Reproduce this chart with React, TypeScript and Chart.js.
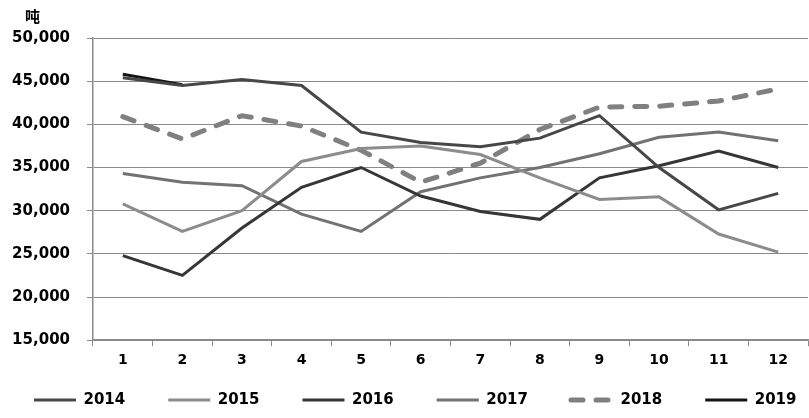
import React, { useEffect, useRef } from "react";
import { Chart, registerables } from "chart.js";

Chart.register(...registerables);

const months = ["1", "2", "3", "4", "5", "6", "7", "8", "9", "10", "11", "12"];
const years = ["2014", "2015", "2016", "2017", "2018", "2019"];
const s2014 = [45400, 44500, 45200, 44500, 39100, 37900, 37400, 38400, 41000, 35000, 30100, 32000];
const s2015 = [30800, 27600, 30000, 35700, 37200, 37500, 36500, 33800, 31300, 31600, 27300, 25200];
const s2016 = [24800, 22500, 28000, 32700, 35000, 31700, 29900, 29000, 33800, 35200, 36900, 35000];
const s2017 = [34300, 33300, 32900, 29600, 27600, 32200, 33800, 35000, 36600, 38500, 39100, 38100];
const s2018 = [40900, 38300, 41000, 39800, 37000, 33300, 35500, 39400, 42000, 42100, 42700, 44100];
const s2019 = [45800, 44600];
const yMin = 15000;
const yMax = 50000;
const yStep = 5000;
const unitLabel = "吨";

const LEGEND_PAD = 43;
const LEGEND_START = 34;
const LEGEND_TOP = 349.5;

const unitPlugin = {
  id: "unitLabel",
  afterDraw(chart: any) {
    const ctx = chart.ctx;
    ctx.save();
    ctx.font = 'bold 15px "Noto Sans CJK SC"';
    ctx.fillStyle = "#000";
    ctx.textAlign = "left";
    ctx.textBaseline = "middle";
    ctx.fillText(unitLabel, 25, 16);
    ctx.restore();
  },
};

// Keep the legend on one row with wide spacing, and keep its layout box short.
const legendFitPlugin = {
  id: "legendFit",
  beforeLayout(chart: any) {
    const leg = chart.legend;
    if (leg && !leg._fitWrapped) {
      const orig = leg.fit;
      leg.fit = function () {
        const mw = this.maxWidth;
        this.maxWidth = 5000;
        orig.call(this);
        this.maxWidth = mw;
        this.width = mw;
        this.height = 43;
      };
      leg._fitWrapped = true;
    }
  },
  afterLayout(chart: any) {
    const leg = chart.legend;
    if (leg && leg.lineWidths) {
      const L = -100;
      const R = 2 * LEGEND_START - LEGEND_PAD + leg.lineWidths[0] - L;
      leg.left = L;
      leg.right = R;
      leg.width = R - L;
      leg.top = LEGEND_TOP;
      leg.bottom = LEGEND_TOP + 62;
    }
  },
};

export default function App() {
  const ref = useRef<HTMLCanvasElement | null>(null);

  useEffect(() => {
    document.body.style.margin = "0";
    if (!ref.current) return;
    const mk = (label: string, data: number[], color: string, width: number, dash: number[] = []) => ({
      label,
      data,
      borderColor: color,
      backgroundColor: color,
      borderWidth: width,
      borderDash: dash,
      borderCapStyle: dash.length ? "round" : "butt",
      pointRadius: 0,
      tension: 0,
      fill: false,
    });
    const chart = new Chart(ref.current, {
      type: "line",
      data: {
        labels: months,
        datasets: [
          mk(years[0], s2014, "#474747", 3),
          mk(years[1], s2015, "#8c8c8c", 3),
          mk(years[2], s2016, "#363636", 3),
          mk(years[3], s2017, "#727272", 3),
          mk(years[4], s2018, "#808080", 5, [12, 13]),
          mk(years[5], s2019, "#151515", 3),
        ] as any,
      },
      options: {
        animation: false,
        responsive: true,
        maintainAspectRatio: false,
        layout: { padding: { left: 0, right: 1, top: 38, bottom: 0 } },
        plugins: {
          tooltip: { enabled: false },
          title: { display: false },
          legend: {
            position: "bottom",
            labels: {
              usePointStyle: true,
              pointStyle: "line",
              pointStyleWidth: 42,
              padding: LEGEND_PAD,
              color: "#000",
              font: { family: '"DejaVu Sans"', weight: "bold", size: 15 },
              generateLabels: (c: any) =>
                c.data.datasets.map((ds: any, i: number) => ({
                  text: ds.label,
                  fillStyle: ds.borderColor,
                  strokeStyle: ds.borderColor,
                  lineWidth: ds.borderWidth,
                  lineDash: ds.borderDash,
                  lineCap: ds.borderCapStyle,
                  pointStyle: "line",
                  fontColor: "#000",
                  hidden: false,
                  datasetIndex: i,
                })),
            },
          },
        },
        scales: {
          x: {
            offset: true,
            grid: {
              offset: true,
              drawOnChartArea: false,
              drawTicks: true,
              tickLength: 6,
              color: "#8a8a8a",
            },
            border: { color: "#8a8a8a", width: 1.5 },
            ticks: {
              padding: 6,
              color: "#000",
              maxRotation: 0,
              font: { family: '"DejaVu Sans"', weight: "bold", size: 14 },
            },
          },
          y: {
            min: yMin,
            max: yMax,
            afterFit: (s: any) => {
              s.width = 93;
            },
            grid: {
              color: "#8a8a8a",
              lineWidth: 1,
              tickLength: 6,
            },
            border: { color: "#8a8a8a", width: 1.5 },
            ticks: {
              stepSize: yStep,
              padding: 17,
              color: "#000",
              font: { family: '"DejaVu Sans"', weight: "bold", size: 15 },
              callback: (v: any) => Number(v).toLocaleString("en-US"),
            },
          },
        },
      },
      plugins: [unitPlugin, legendFitPlugin],
    });
    return () => chart.destroy();
  }, []);

  return (
    <div style={{ position: "relative", width: "809px", height: "418px" }}>
      <canvas ref={ref} />
    </div>
  );
}
